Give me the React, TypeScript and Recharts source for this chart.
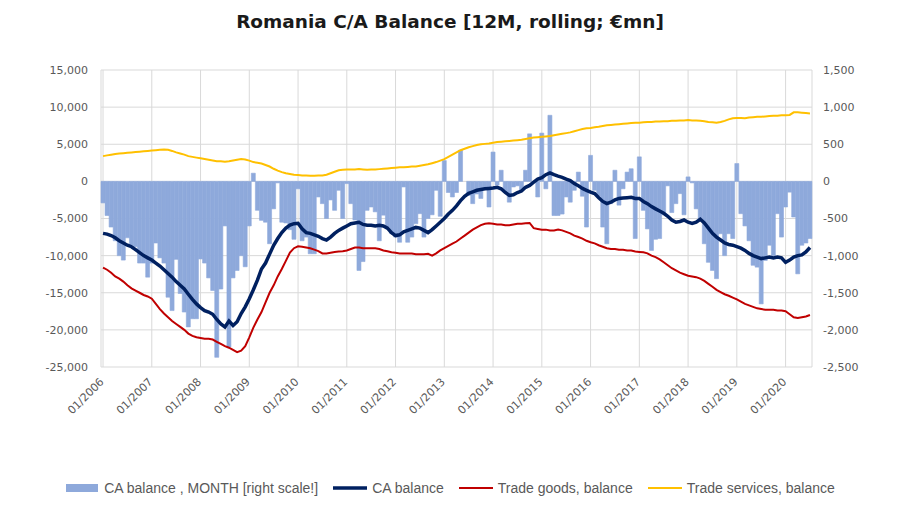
import React from 'react';
import { ComposedChart, Bar, Line, XAxis, YAxis, CartesianGrid } from 'recharts';

// Monthly observations start in January 2006
const startYear = 2006;

// Monthly current account balance, €mn (right scale)
const caMonthly = [
  -290, -460, -615, -800, -1000, -1060, -760, -860, -880, -1100, -1100, -1290,
  -1100, -830, -1030, -1100, -1560, -1740, -1050, -1510, -1760, -1960, -1850, -1850,
  -1045, -1100, -1300, -1470, -2370, -1450, -600, -2230, -1300, -1200, -1000, -1150,
  -600, 110, -390, -525, -550, -840, -370, -20, -550, -560, -650, -780,
  -100, -800, -750, -975, -975, -210, -300, -500, -250, -390, -120, -500,
  -30, -300, -520, -1200, -1080, -390, -345, -410, -800, -455, -615, -700,
  -750, -820, -75, -820, -750, -570, -435, -750, -500, -450, -120, -470,
  280, -150, -210, -150, 420, 0, -190, -300, -170, -230, -100, -345,
  395, -50, 150, -145, -280, -75, -60, -120, 150, 640, 0, -210,
  650, -100, 890, -460, -460, -440, -210, -280, -120, 125, -200, -615,
  350, -120, -200, -615, -840, -300, 150, -320, -100, 125, 170, -770,
  330, -390, -640, -930, -780, -770, -450, -60, -420, -300, -165, -450,
  60, -20, -370, -500, -840, -1090, -1200, -1310, -705, -1000, -705, -770,
  240, -435, -600, -800, -1130, -1155, -1650, -1065, -860, -1000, -435, -750,
  -345, -145, -480, -1245, -860, -830, -770,
];

// 12-month rolling current account balance, €mn (left scale)
const caRolling = [
  -7000, -7100, -7300, -7600, -8000, -8300, -8600, -8800, -9200, -9600, -10000, -10300,
  -10600, -11000, -11400, -11900, -12400, -12900, -13500, -14000, -14500, -15200, -15900, -16500,
  -17000, -17400, -17600, -17900, -18600, -19200, -19600, -18800, -19400, -18900, -17800, -16900,
  -15800, -14600, -13300, -11800, -11000, -9800, -8600, -7700, -6900, -6300, -5900, -5700,
  -5650, -6400, -6900, -7000, -7200, -7400, -7700, -7900, -7500, -7000, -6600, -6300,
  -6000, -5700, -5600, -5500, -5800, -5900, -5900, -6000, -5900, -6000, -6300, -6900,
  -7300, -7200, -6800, -6600, -6400, -6200, -6300, -6600, -6900, -6500, -6000, -5500,
  -5000, -4400, -3900, -3300, -2600, -2000, -1600, -1400, -1200, -1100, -1000, -950,
  -900, -800, -1000, -1500, -1900, -1800, -1500, -1300, -800, -550, -100, 300,
  500, 900, 1150, 900, 700, 550, 300, 100, -300, -600, -950, -1200,
  -1450, -1650, -2200, -2700, -3000, -2800, -2500, -2300, -2250, -2200, -2150, -2300,
  -2300, -2700, -3000, -3400, -3700, -4000, -4300, -4700, -5200, -5500, -5400, -5200,
  -5500, -5650, -5500, -5100, -5600, -6300, -7000, -7500, -7900, -8300, -8500, -8600,
  -8800, -9000, -9300, -9700, -10000, -10200, -10400, -10300, -10200, -10300, -10200, -10300,
  -10900, -10600, -10200, -10000, -9900, -9500, -8900,
];

// 12-month rolling trade in goods balance, €mn (left scale)
const tradeGoods = [
  -11600, -11900, -12300, -12800, -13100, -13500, -14000, -14400, -14700, -15000, -15300, -15500,
  -15800, -16500, -17200, -17800, -18300, -18800, -19200, -19600, -20000, -20500, -20800, -21000,
  -21100, -21200, -21200, -21300, -21600, -21900, -22200, -22400, -22700, -23000, -22800, -22200,
  -21000, -19700, -18600, -17600, -16300, -15000, -14000, -12800, -11800, -10700, -9600, -9000,
  -8750, -8800, -8900, -9000, -9200, -9400, -9700, -9700, -9600, -9500, -9450, -9400,
  -9300, -9100, -8900, -8900, -9000, -9000, -9000, -9000, -9100, -9300, -9400, -9550,
  -9600, -9700, -9700, -9700, -9700, -9800, -9800, -9800, -9750, -10000, -9700, -9300,
  -9000, -8700, -8400, -8100, -7700, -7300, -6900, -6500, -6200, -5900, -5700, -5650,
  -5700, -5800, -5800, -5900, -5900, -5800, -5700, -5700, -5650, -5600, -6300, -6400,
  -6500, -6500, -6600, -6600, -6500, -6600, -6800, -7000, -7300, -7500, -7700, -8000,
  -8200, -8350, -8600, -8800, -9000, -9100, -9100, -9200, -9200, -9300, -9300, -9450,
  -9500, -9550, -9700, -10000, -10200, -10500, -10900, -11300, -11700, -12000, -12300, -12500,
  -12700, -12800, -12900, -13100, -13400, -13800, -14200, -14600, -14900, -15200, -15400, -15650,
  -15900, -16200, -16500, -16700, -16900, -17100, -17200, -17300, -17300, -17300, -17400, -17400,
  -17500, -17900, -18300, -18400, -18300, -18200, -18000,
];

// 12-month rolling trade in services balance, €mn (left scale)
const tradeServices = [
  3400, 3500, 3600, 3700, 3750, 3800, 3850, 3900, 3950, 4000, 4050, 4100,
  4150, 4200, 4250, 4300, 4250, 4100, 3900, 3750, 3600, 3400, 3300, 3200,
  3100, 3000, 2900, 2800, 2700, 2700, 2650, 2700, 2800, 2900, 3000, 2950,
  2800, 2600, 2500, 2400, 2200, 2000, 1700, 1450, 1250, 1100, 1000, 900,
  850, 800, 800, 750, 750, 800, 800, 900, 1100, 1300, 1500, 1550,
  1600, 1600, 1600, 1650, 1600, 1550, 1600, 1600, 1650, 1700, 1750, 1800,
  1850, 1900, 1900, 1950, 2000, 2000, 2100, 2200, 2300, 2450, 2600, 2800,
  3000, 3300, 3600, 3900, 4200, 4400, 4600, 4750, 4900, 5000, 5050, 5100,
  5200, 5300, 5350, 5400, 5450, 5500, 5550, 5600, 5700, 5800, 5900, 5950,
  6000, 6050, 6100, 6200, 6300, 6400, 6500, 6600, 6750, 6900, 7050, 7150,
  7200, 7300, 7350, 7450, 7550, 7600, 7650, 7700, 7750, 7800, 7850, 7900,
  7900, 7950, 8000, 8000, 8050, 8050, 8100, 8100, 8150, 8150, 8200, 8200,
  8250, 8200, 8200, 8150, 8100, 8000, 7950, 7900, 8000, 8150, 8350, 8500,
  8550, 8550, 8500, 8600, 8650, 8700, 8700, 8750, 8800, 8850, 8850, 8900,
  8900, 8950, 9300, 9300, 9250, 9200, 9150,
];

const leftTicks = [-25000, -20000, -15000, -10000, -5000, 0, 5000, 10000, 15000];
const rightTicks = [-2500, -2000, -1500, -1000, -500, 0, 500, 1000, 1500];

const monthLabels = caMonthly.map((_, i) => {
  const year = startYear + Math.floor(i / 12);
  const month = (i % 12) + 1;
  return `${String(month).padStart(2, '0')}/${year}`;
});
const januaryLabels = monthLabels.filter((l) => l.startsWith('01/'));

const rows = monthLabels.map((label, i) => ({
  label,
  caMonthly: caMonthly[i],
  ca: caRolling[i],
  goods: tradeGoods[i],
  services: tradeServices[i],
}));

const fmt = (v: number) => v.toLocaleString('en-US');

const axisFont = { fontSize: 11, fill: '#595959', fontFamily: 'DejaVu Sans' };

const legendItems = [
  { label: 'CA balance , MONTH [right scale!]', color: '#8EA9DB', kind: 'box' },
  { label: 'CA balance', color: '#002060', kind: 'line', width: 3.5 },
  { label: 'Trade goods, balance', color: '#C00000', kind: 'line', width: 2 },
  { label: 'Trade services, balance', color: '#FFC000', kind: 'line', width: 2 },
];

export default function App() {
  return (
    <div style={{ position: 'absolute', left: 0, top: 0, width: 900, height: 510, background: '#fff' }}>
      <div
        style={{
          position: 'absolute',
          left: 0,
          top: 11,
          width: 900,
          textAlign: 'center',
          fontFamily: 'DejaVu Sans',
          fontWeight: 'bold',
          fontSize: 18.5,
          lineHeight: '22px',
          color: '#1a1a1a',
        }}
      >
        Romania C/A Balance [12M, rolling; €mn]
      </div>
      <ComposedChart
        width={900}
        height={510}
        data={rows}
        margin={{ top: 70, right: 0, bottom: 0, left: 0 }}
        barCategoryGap={0}
        barGap={0}
      >
        <CartesianGrid yAxisId="left" stroke="#d9d9d9" strokeWidth={1} />
        <XAxis
          dataKey="label"
          ticks={januaryLabels}
          interval={0}
          tickLine={false}
          axisLine={false}
          height={143}
          angle={-45}
          textAnchor="end"
          tickMargin={4}
          tick={{ ...axisFont, dx: -4 }}
        />
        <YAxis
          yAxisId="left"
          orientation="left"
          width={101}
          domain={[-25000, 15000]}
          ticks={leftTicks}
          tickFormatter={fmt}
          axisLine={false}
          tickLine={false}
          tickSize={0}
          tickMargin={13}
          tick={axisFont}
        />
        <YAxis
          yAxisId="right"
          orientation="right"
          width={88}
          domain={[-2500, 1500]}
          ticks={rightTicks}
          tickFormatter={fmt}
          axisLine={false}
          tickLine={false}
          tickSize={0}
          tickMargin={11}
          tick={{ ...axisFont, textAnchor: 'start' }}
        />
        <Bar
          yAxisId="right"
          dataKey="caMonthly"
          fill="#8EA9DB"
          stroke="#8EA9DB"
          strokeWidth={0.6}
          isAnimationActive={false}
        />
        <Line yAxisId="left" dataKey="services" stroke="#FFC000" strokeWidth={2} dot={false} isAnimationActive={false} />
        <Line yAxisId="left" dataKey="goods" stroke="#C00000" strokeWidth={2} dot={false} isAnimationActive={false} />
        <Line yAxisId="left" dataKey="ca" stroke="#002060" strokeWidth={3.5} dot={false} isAnimationActive={false} />
      </ComposedChart>
      <div
        style={{
          position: 'absolute',
          left: 0,
          top: 480,
          width: 900,
          display: 'flex',
          justifyContent: 'center',
          alignItems: 'center',
          fontFamily: 'Liberation Sans',
          fontSize: 14,
          color: '#595959',
          whiteSpace: 'nowrap',
        }}
      >
        {legendItems.map((it, i) => (
          <div key={it.label} style={{ display: 'flex', alignItems: 'center', marginLeft: i === 0 ? 0 : 15 }}>
            <svg width={34} height={12} style={{ marginRight: 5 }}>
              {it.kind === 'box' ? (
                <rect x={1} y={2} width={32} height={8} fill={it.color} />
              ) : (
                <line x1={0} y1={6} x2={34} y2={6} stroke={it.color} strokeWidth={it.width} />
              )}
            </svg>
            <span>{it.label}</span>
          </div>
        ))}
      </div>
    </div>
  );
}
